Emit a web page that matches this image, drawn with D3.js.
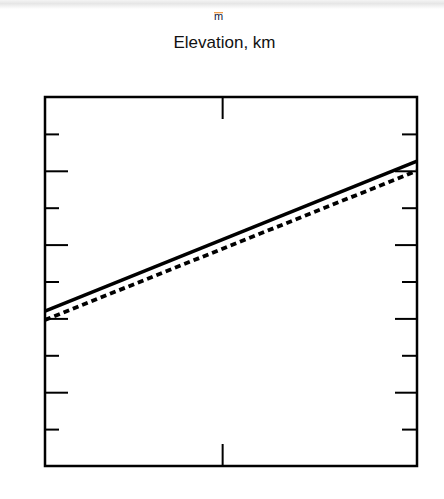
<!DOCTYPE html>
<html>
<head>
<meta charset="utf-8">
<script src="https://cdn.jsdelivr.net/npm/d3@7"></script>
<style>
  html, body { margin: 0; padding: 0; background: #fff; }
  svg { display: block; }
</style>
</head>
<body>
<script>
// ---- data ----
const xValues = [0, 21];
const solidValues = [2.10, 4.13];
const dashedValues = [1.98, 4.00];
const xTicks = [10];
const yMinorTicks = [0.5, 1.5, 2.5, 3.5, 4.5];
const yMajorTicks = [1, 2, 3, 4];
const titleText = "Elevation, km";

(function () {
const W = 444, H = 499;
const svg = d3.select("body").append("svg").attr("width", W).attr("height", H);

// top shadow band
const defs = svg.append("defs");
const grad = defs.append("linearGradient").attr("id", "shade").attr("x1", 0).attr("y1", 0).attr("x2", 0).attr("y2", 1);
grad.append("stop").attr("offset", "0%").attr("stop-color", "#f4f4f4");
grad.append("stop").attr("offset", "40%").attr("stop-color", "#e6e6e6");
grad.append("stop").attr("offset", "100%").attr("stop-color", "#ffffff");
svg.append("rect").attr("x", 0).attr("y", 0).attr("width", W).attr("height", 9).attr("fill", "url(#shade)");

// small glyph artefact
svg.append("rect").attr("x", 214).attr("y", 12).attr("width", 9).attr("height", 1.3).attr("fill", "#f0a050");
svg.append("text").attr("x", 218.5).attr("y", 19.5).attr("text-anchor", "middle")
  .attr("font-family", "Liberation Sans, Arial, sans-serif").attr("font-size", 11).attr("fill", "#102040").text("m");

// title
svg.append("text").attr("x", 224.5).attr("y", 48).attr("text-anchor", "middle")
  .attr("font-family", "Liberation Sans, Arial, sans-serif").attr("font-size", 17).attr("fill", "#111")
  .text(titleText);

const pL = 45, pR = 417, pT = 97, pB = 466;
const x = d3.scaleLinear().domain([xValues[0], xValues[1]]).range([pL, pR]);
const y = d3.scaleLinear().domain([0, 5]).range([pB, pT]);

const g = svg.append("g");

function styleAxis(sel) {
  sel.select(".domain").remove();
  sel.selectAll(".tick line").attr("stroke", "#000").attr("stroke-width", 2);
  sel.selectAll(".tick text").remove();
}
g.append("g").attr("transform", `translate(${pL},0)`)
  .call(d3.axisRight(y).tickValues(yMajorTicks).tickSize(23).tickFormat("")).call(styleAxis);
g.append("g").attr("transform", `translate(${pL},0)`)
  .call(d3.axisRight(y).tickValues(yMinorTicks).tickSize(14).tickFormat("")).call(styleAxis);
g.append("g").attr("transform", `translate(${pR},0)`)
  .call(d3.axisLeft(y).tickValues(yMajorTicks).tickSize(22).tickFormat("")).call(styleAxis);
g.append("g").attr("transform", `translate(${pR},0)`)
  .call(d3.axisLeft(y).tickValues(yMinorTicks).tickSize(15).tickFormat("")).call(styleAxis);
g.append("g").attr("transform", `translate(0,${pT})`)
  .call(d3.axisBottom(x).tickValues(xTicks).tickSize(22).tickFormat("")).call(styleAxis);
g.append("g").attr("transform", `translate(0,${pB})`)
  .call(d3.axisTop(x).tickValues(xTicks).tickSize(22).tickFormat("")).call(styleAxis);

const line = d3.line().x((d, i) => x(xValues[i])).y(d => y(d));
g.append("path").datum(solidValues).attr("d", line)
  .attr("fill", "none").attr("stroke", "#000").attr("stroke-width", 3.5);
g.append("path").datum(dashedValues).attr("d", line)
  .attr("fill", "none").attr("stroke", "#000").attr("stroke-width", 3.8).attr("stroke-dasharray", "6,4");

g.append("rect").attr("x", pL).attr("y", pT).attr("width", pR - pL).attr("height", pB - pT)
  .attr("fill", "none").attr("stroke", "#000").attr("stroke-width", 2.5);
})();
</script>
</body>
</html>
